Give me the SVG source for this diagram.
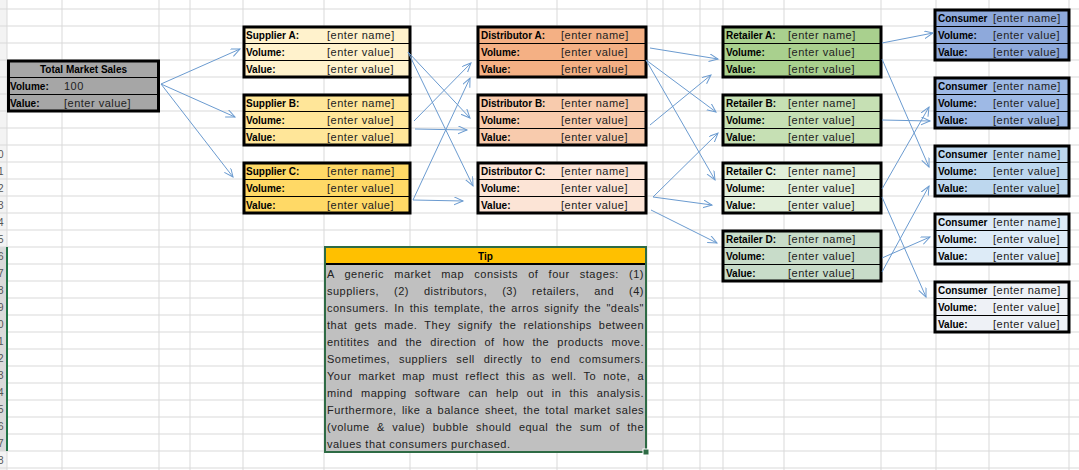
<svg xmlns="http://www.w3.org/2000/svg" width="1079" height="470" viewBox="0 0 1079 470">
<style>
.grid line{stroke:#D9D9D9;stroke-width:1}
.box{stroke:#000;stroke-width:3}
.sep{stroke:#000;stroke-width:1.2}
text{font-family:"Liberation Sans",Arial,sans-serif}
.lb{font-size:10px;font-weight:bold;fill:#000}
.vl{font-size:11px;letter-spacing:0.5px;fill:#222}
.tip{font-size:11px;fill:#222;letter-spacing:0.5px}
.rh{font-size:10px;fill:#555;text-anchor:end}
.arr line{stroke:#6B9BD0;stroke-width:1;fill:none}
</style>
<defs>
<marker id="ah" markerUnits="userSpaceOnUse" markerWidth="12" markerHeight="12" refX="9" refY="4" orient="auto">
<path d="M0,0 L9,4 L0,8" fill="none" stroke="#6B9BD0" stroke-width="1"/>
</marker>
</defs>
<rect width="1079" height="470" fill="#FFFFFF"/>
<g id="rowheader">
<rect x="0" y="0" width="7" height="470" fill="#F3F3F3"/>
<rect x="0" y="247" width="7" height="204" fill="#DADADA"/>
<text class="rh" x="3.5" y="158">0</text><text class="rh" x="3.5" y="175">1</text><text class="rh" x="3.5" y="192">2</text><text class="rh" x="3.5" y="209">3</text><text class="rh" x="3.5" y="226">4</text><text class="rh" x="3.5" y="243">5</text><text class="rh" x="3.5" y="260">6</text><text class="rh" x="3.5" y="277">7</text><text class="rh" x="3.5" y="294">8</text><text class="rh" x="3.5" y="311">9</text><text class="rh" x="3.5" y="328">0</text><text class="rh" x="3.5" y="345">1</text><text class="rh" x="3.5" y="362">2</text><text class="rh" x="3.5" y="379">3</text><text class="rh" x="3.5" y="396">4</text><text class="rh" x="3.5" y="413">5</text><text class="rh" x="3.5" y="430">6</text><text class="rh" x="3.5" y="447">7</text><text class="rh" x="3.5" y="464">8</text>
</g>
<g class="grid">
<line x1="0" y1="9" x2="1079" y2="9"/><line x1="0" y1="26" x2="1079" y2="26"/><line x1="0" y1="43" x2="1079" y2="43"/><line x1="0" y1="60" x2="1079" y2="60"/><line x1="0" y1="77" x2="1079" y2="77"/><line x1="0" y1="94" x2="1079" y2="94"/><line x1="0" y1="111" x2="1079" y2="111"/><line x1="0" y1="128" x2="1079" y2="128"/><line x1="0" y1="145" x2="1079" y2="145"/><line x1="0" y1="162" x2="1079" y2="162"/><line x1="0" y1="179" x2="1079" y2="179"/><line x1="0" y1="196" x2="1079" y2="196"/><line x1="0" y1="213" x2="1079" y2="213"/><line x1="0" y1="230" x2="1079" y2="230"/><line x1="0" y1="247" x2="1079" y2="247"/><line x1="0" y1="264" x2="1079" y2="264"/><line x1="0" y1="281" x2="1079" y2="281"/><line x1="0" y1="298" x2="1079" y2="298"/><line x1="0" y1="315" x2="1079" y2="315"/><line x1="0" y1="332" x2="1079" y2="332"/><line x1="0" y1="349" x2="1079" y2="349"/><line x1="0" y1="366" x2="1079" y2="366"/><line x1="0" y1="383" x2="1079" y2="383"/><line x1="0" y1="400" x2="1079" y2="400"/><line x1="0" y1="417" x2="1079" y2="417"/><line x1="0" y1="434" x2="1079" y2="434"/><line x1="0" y1="451" x2="1079" y2="451"/><line x1="0" y1="468" x2="1079" y2="468"/>
<line x1="7" y1="0" x2="7" y2="470"/><line x1="62" y1="0" x2="62" y2="470"/><line x1="159" y1="0" x2="159" y2="470"/><line x1="190" y1="0" x2="190" y2="470"/><line x1="243" y1="0" x2="243" y2="470"/><line x1="324" y1="0" x2="324" y2="470"/><line x1="410" y1="0" x2="410" y2="470"/><line x1="477" y1="0" x2="477" y2="470"/><line x1="557" y1="0" x2="557" y2="470"/><line x1="647" y1="0" x2="647" y2="470"/><line x1="663" y1="0" x2="663" y2="470"/><line x1="700" y1="0" x2="700" y2="470"/><line x1="723" y1="0" x2="723" y2="470"/><line x1="784" y1="0" x2="784" y2="470"/><line x1="881" y1="0" x2="881" y2="470"/><line x1="936" y1="0" x2="936" y2="470"/><line x1="989" y1="0" x2="989" y2="470"/><line x1="1069" y1="0" x2="1069" y2="470"/>
</g>
<line x1="7" y1="247" x2="7" y2="451" stroke="#217346" stroke-width="2"/>

<g id="total">
<rect class="box" x="8.5" y="61" width="150" height="50" fill="#A6A6A6"/>
<line class="sep" x1="8.5" y1="77.5" x2="158.5" y2="77.5"/><line class="sep" x1="8.5" y1="94.5" x2="158.5" y2="94.5"/>
<text class="lb" x="83.5" y="73" text-anchor="middle">Total Market Sales</text>
<text class="lb" x="10" y="90">Volume:</text><text class="vl" x="64" y="90">100</text>
<text class="lb" x="10" y="107">Value:</text><text class="vl" x="64" y="107">[enter value]</text>
</g>

<g id="supplierA">
<rect class="box" x="244" y="27" width="166" height="50" fill="#FFF2CC"/>
<line class="sep" x1="244" y1="43.5" x2="410" y2="43.5"/><line class="sep" x1="244" y1="60.5" x2="410" y2="60.5"/>
<text class="lb" x="246" y="39">Supplier A:</text><text class="vl" x="327" y="39">[enter name]</text>
<text class="lb" x="246" y="56">Volume:</text><text class="vl" x="327" y="56">[enter value]</text>
<text class="lb" x="246" y="73">Value:</text><text class="vl" x="327" y="73">[enter value]</text>
<line x1="410" y1="77" x2="410" y2="95" stroke="#000" stroke-width="3"/>
</g>
<g id="supplierB">
<rect class="box" x="244" y="95" width="166" height="50" fill="#FFE699"/>
<line class="sep" x1="244" y1="111.5" x2="410" y2="111.5"/><line class="sep" x1="244" y1="128.5" x2="410" y2="128.5"/>
<text class="lb" x="246" y="107">Supplier B:</text><text class="vl" x="327" y="107">[enter name]</text>
<text class="lb" x="246" y="124">Volume:</text><text class="vl" x="327" y="124">[enter value]</text>
<text class="lb" x="246" y="141">Value:</text><text class="vl" x="327" y="141">[enter value]</text>
</g>
<g id="supplierC">
<rect class="box" x="244" y="163" width="166" height="50" fill="#FFD966"/>
<line class="sep" x1="244" y1="179.5" x2="410" y2="179.5"/><line class="sep" x1="244" y1="196.5" x2="410" y2="196.5"/>
<text class="lb" x="246" y="175">Supplier C:</text><text class="vl" x="327" y="175">[enter name]</text>
<text class="lb" x="246" y="192">Volume:</text><text class="vl" x="327" y="192">[enter value]</text>
<text class="lb" x="246" y="209">Value:</text><text class="vl" x="327" y="209">[enter value]</text>
</g>

<g id="distributorA">
<rect class="box" x="478" y="27" width="168" height="50" fill="#F4B084"/>
<line class="sep" x1="478" y1="43.5" x2="646" y2="43.5"/><line class="sep" x1="478" y1="60.5" x2="646" y2="60.5"/>
<text class="lb" x="481" y="39">Distributor A:</text><text class="vl" x="561" y="39">[enter name]</text>
<text class="lb" x="481" y="56">Volume:</text><text class="vl" x="561" y="56">[enter value]</text>
<text class="lb" x="481" y="73">Value:</text><text class="vl" x="561" y="73">[enter value]</text>
</g>
<g id="distributorB">
<rect class="box" x="478" y="95" width="168" height="50" fill="#F8CBAD"/>
<line class="sep" x1="478" y1="111.5" x2="646" y2="111.5"/><line class="sep" x1="478" y1="128.5" x2="646" y2="128.5"/>
<text class="lb" x="481" y="107">Distributor B:</text><text class="vl" x="561" y="107">[enter name]</text>
<text class="lb" x="481" y="124">Volume:</text><text class="vl" x="561" y="124">[enter value]</text>
<text class="lb" x="481" y="141">Value:</text><text class="vl" x="561" y="141">[enter value]</text>
</g>
<g id="distributorC">
<rect class="box" x="478" y="163" width="168" height="50" fill="#FCE4D6"/>
<line class="sep" x1="478" y1="179.5" x2="646" y2="179.5"/><line class="sep" x1="478" y1="196.5" x2="646" y2="196.5"/>
<text class="lb" x="481" y="175">Distributor C:</text><text class="vl" x="561" y="175">[enter name]</text>
<text class="lb" x="481" y="192">Volume:</text><text class="vl" x="561" y="192">[enter value]</text>
<text class="lb" x="481" y="209">Value:</text><text class="vl" x="561" y="209">[enter value]</text>
</g>

<g id="retailerA">
<rect class="box" x="723" y="27" width="158" height="50" fill="#A9D08E"/>
<line class="sep" x1="723" y1="43.5" x2="881" y2="43.5"/><line class="sep" x1="723" y1="60.5" x2="881" y2="60.5"/>
<text class="lb" x="726" y="39">Retailer A:</text><text class="vl" x="788" y="39">[enter name]</text>
<text class="lb" x="726" y="56">Volume:</text><text class="vl" x="788" y="56">[enter value]</text>
<text class="lb" x="726" y="73">Value:</text><text class="vl" x="788" y="73">[enter value]</text>
</g>
<g id="retailerB">
<rect class="box" x="723" y="95" width="158" height="50" fill="#C6E0B4"/>
<line class="sep" x1="723" y1="111.5" x2="881" y2="111.5"/><line class="sep" x1="723" y1="128.5" x2="881" y2="128.5"/>
<text class="lb" x="726" y="107">Retailer B:</text><text class="vl" x="788" y="107">[enter name]</text>
<text class="lb" x="726" y="124">Volume:</text><text class="vl" x="788" y="124">[enter value]</text>
<text class="lb" x="726" y="141">Value:</text><text class="vl" x="788" y="141">[enter value]</text>
</g>
<g id="retailerC">
<rect class="box" x="723" y="163" width="158" height="50" fill="#E2EFDA"/>
<line class="sep" x1="723" y1="179.5" x2="881" y2="179.5"/><line class="sep" x1="723" y1="196.5" x2="881" y2="196.5"/>
<text class="lb" x="726" y="175">Retailer C:</text><text class="vl" x="788" y="175">[enter name]</text>
<text class="lb" x="726" y="192">Volume:</text><text class="vl" x="788" y="192">[enter value]</text>
<text class="lb" x="726" y="209">Value:</text><text class="vl" x="788" y="209">[enter value]</text>
</g>
<g id="retailerD">
<rect class="box" x="723" y="231" width="158" height="50" fill="#C8DCC9"/>
<line class="sep" x1="723" y1="247.5" x2="881" y2="247.5"/><line class="sep" x1="723" y1="264.5" x2="881" y2="264.5"/>
<text class="lb" x="726" y="243">Retailer D:</text><text class="vl" x="788" y="243">[enter name]</text>
<text class="lb" x="726" y="260">Volume:</text><text class="vl" x="788" y="260">[enter value]</text>
<text class="lb" x="726" y="277">Value:</text><text class="vl" x="788" y="277">[enter value]</text>
</g>

<g id="consumer1">
<rect class="box" x="935" y="10" width="134" height="50" fill="#8EA9DB"/>
<line class="sep" x1="935" y1="26.5" x2="1069" y2="26.5"/><line class="sep" x1="935" y1="43.5" x2="1069" y2="43.5"/>
<text class="lb" x="938" y="22">Consumer</text><text class="vl" x="993" y="22">[enter name]</text>
<text class="lb" x="938" y="39">Volume:</text><text class="vl" x="993" y="39">[enter value]</text>
<text class="lb" x="938" y="56">Value:</text><text class="vl" x="993" y="56">[enter value]</text>
</g>
<g id="consumer2">
<rect class="box" x="935" y="78" width="134" height="50" fill="#9EB9E5"/>
<line class="sep" x1="935" y1="94.5" x2="1069" y2="94.5"/><line class="sep" x1="935" y1="111.5" x2="1069" y2="111.5"/>
<text class="lb" x="938" y="90">Consumer</text><text class="vl" x="993" y="90">[enter name]</text>
<text class="lb" x="938" y="107">Volume:</text><text class="vl" x="993" y="107">[enter value]</text>
<text class="lb" x="938" y="124">Value:</text><text class="vl" x="993" y="124">[enter value]</text>
</g>
<g id="consumer3">
<rect class="box" x="935" y="146" width="134" height="50" fill="#BDD7EE"/>
<line class="sep" x1="935" y1="162.5" x2="1069" y2="162.5"/><line class="sep" x1="935" y1="179.5" x2="1069" y2="179.5"/>
<text class="lb" x="938" y="158">Consumer</text><text class="vl" x="993" y="158">[enter name]</text>
<text class="lb" x="938" y="175">Volume:</text><text class="vl" x="993" y="175">[enter value]</text>
<text class="lb" x="938" y="192">Value:</text><text class="vl" x="993" y="192">[enter value]</text>
</g>
<g id="consumer4">
<rect class="box" x="935" y="214" width="134" height="50" fill="#DDEBF7"/>
<line class="sep" x1="935" y1="230.5" x2="1069" y2="230.5"/><line class="sep" x1="935" y1="247.5" x2="1069" y2="247.5"/>
<text class="lb" x="938" y="226">Consumer</text><text class="vl" x="993" y="226">[enter name]</text>
<text class="lb" x="938" y="243">Volume:</text><text class="vl" x="993" y="243">[enter value]</text>
<text class="lb" x="938" y="260">Value:</text><text class="vl" x="993" y="260">[enter value]</text>
</g>
<g id="consumer5">
<rect class="box" x="935" y="282" width="134" height="50" fill="#EEF1F6"/>
<line class="sep" x1="935" y1="298.5" x2="1069" y2="298.5"/><line class="sep" x1="935" y1="315.5" x2="1069" y2="315.5"/>
<text class="lb" x="938" y="294">Consumer</text><text class="vl" x="993" y="294">[enter name]</text>
<text class="lb" x="938" y="311">Volume:</text><text class="vl" x="993" y="311">[enter value]</text>
<text class="lb" x="938" y="328">Value:</text><text class="vl" x="993" y="328">[enter value]</text>
</g>

<g id="tip">
<rect x="325" y="247" width="321" height="205" fill="#C0C0C0"/>
<rect x="325" y="247" width="321" height="17" fill="#FFC000"/>
<line x1="325" y1="264" x2="646" y2="264" stroke="#000" stroke-width="2"/>
<rect x="325" y="247" width="321" height="205" fill="none" stroke="#2E6B45" stroke-width="2"/>
<rect x="643" y="449" width="6" height="6" fill="#2E6B45" stroke="#FFFFFF" stroke-width="1"/>
<text class="lb" x="485.5" y="260" text-anchor="middle">Tip</text>
<text class="tip" x="327" y="278" textLength="317" lengthAdjust="spacing" style="word-spacing:6.6px">A generic market map consists of four stages: (1)</text>
<text class="tip" x="327" y="295" textLength="317" lengthAdjust="spacing" style="word-spacing:11.4px">suppliers, (2) distributors, (3) retailers, and (4)</text>
<text class="tip" x="327" y="312" textLength="317" lengthAdjust="spacing" style="word-spacing:1.8px">consumers. In this template, the arros signify the "deals"</text>
<text class="tip" x="327" y="329" textLength="317" lengthAdjust="spacing" style="word-spacing:3.5px">that gets made. They signify the relationships between</text>
<text class="tip" x="327" y="346" textLength="317" lengthAdjust="spacing" style="word-spacing:4.5px">entitites and the direction of how the products move.</text>
<text class="tip" x="327" y="363" textLength="317" lengthAdjust="spacing" style="word-spacing:5.3px">Sometimes, suppliers sell directly to end comsumers.</text>
<text class="tip" x="327" y="380" textLength="317" lengthAdjust="spacing" style="word-spacing:3.4px">Your market map must reflect this as well. To note, a</text>
<text class="tip" x="327" y="397" textLength="317" lengthAdjust="spacing" style="word-spacing:4.6px">mind mapping software can help out in this analysis.</text>
<text class="tip" x="327" y="414" textLength="317" lengthAdjust="spacing" style="word-spacing:1.75px">Furthermore, like a balance sheet, the total market sales</text>
<text class="tip" x="327" y="431" textLength="317" lengthAdjust="spacing" style="word-spacing:3.9px">(volume &amp; value) bubble should equal the sum of the</text>
<text class="tip" x="327" y="448">values that consumers purchased.</text>
</g>

<g id="connectors" class="arr">
<line x1="161" y1="84" x2="240" y2="49" marker-end="url(#ah)"/>
<line x1="161" y1="84" x2="235" y2="117" marker-end="url(#ah)"/>
<line x1="161" y1="84" x2="233" y2="177" marker-end="url(#ah)"/>
<line x1="408" y1="52" x2="470" y2="118" marker-end="url(#ah)"/>
<line x1="408" y1="52" x2="473" y2="186" marker-end="url(#ah)"/>
<line x1="414" y1="121" x2="471" y2="63" marker-end="url(#ah)"/>
<line x1="415" y1="129" x2="467" y2="130" marker-end="url(#ah)"/>
<line x1="413" y1="200" x2="470" y2="78" marker-end="url(#ah)"/>
<line x1="413" y1="200" x2="463" y2="201" marker-end="url(#ah)"/>
<line x1="650" y1="48" x2="718" y2="59" marker-end="url(#ah)"/>
<line x1="646" y1="60" x2="716" y2="112" marker-end="url(#ah)"/>
<line x1="646" y1="60" x2="715" y2="180" marker-end="url(#ah)"/>
<line x1="650" y1="125" x2="711" y2="75" marker-end="url(#ah)"/>
<line x1="653" y1="197" x2="718" y2="133" marker-end="url(#ah)"/>
<line x1="653" y1="197" x2="712" y2="205" marker-end="url(#ah)"/>
<line x1="651" y1="210" x2="717" y2="243" marker-end="url(#ah)"/>
<line x1="882" y1="43" x2="933" y2="33" marker-end="url(#ah)"/>
<line x1="882" y1="59" x2="929" y2="167" marker-end="url(#ah)"/>
<line x1="882" y1="120" x2="930" y2="121" marker-end="url(#ah)"/>
<line x1="882" y1="189" x2="929" y2="107" marker-end="url(#ah)"/>
<line x1="882" y1="197" x2="926" y2="297" marker-end="url(#ah)"/>
<line x1="882" y1="258" x2="930" y2="237" marker-end="url(#ah)"/>
<line x1="882" y1="272" x2="929" y2="186" marker-end="url(#ah)"/>
</g>
</svg>
